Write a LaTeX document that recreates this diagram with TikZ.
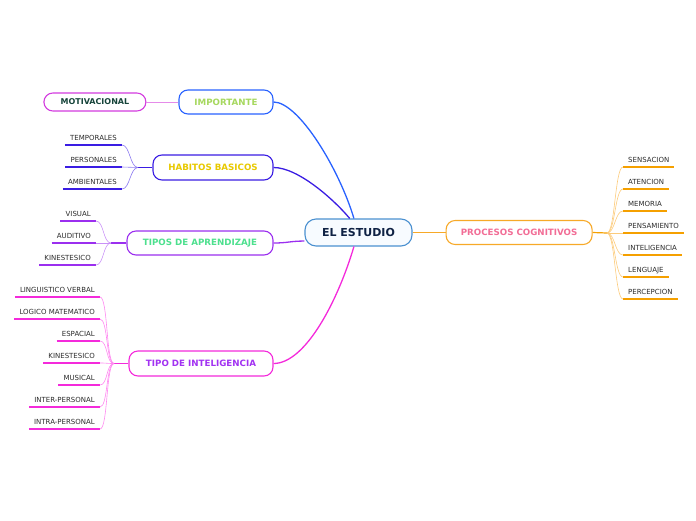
\documentclass[tikz,border=0pt]{standalone}
\usepackage{fontspec}
\setmainfont{DejaVu Sans}
\usetikzlibrary{positioning}

\definecolor{ceborder}{HTML}{4A90D0}
\definecolor{cefill}{HTML}{F7FBFF}
\definecolor{cetext}{HTML}{0F2244}
\definecolor{impborder}{HTML}{2962FF}
\definecolor{imptext}{HTML}{A6D85E}
\definecolor{motborder}{HTML}{D33BDF}
\definecolor{mottext}{HTML}{16443A}
\definecolor{motline}{HTML}{E58BE9}
\definecolor{hbborder}{HTML}{3A1DE3}
\definecolor{hbtext}{HTML}{E8C900}
\definecolor{hbtwig}{HTML}{8C7BF0}
\definecolor{taborder}{HTML}{9B2FEF}
\definecolor{tatext}{HTML}{4DE08E}
\definecolor{tatwig}{HTML}{C990F7}
\definecolor{tiborder}{HTML}{F42ADB}
\definecolor{titext}{HTML}{A232F2}
\definecolor{titwig}{HTML}{FF88F0}
\definecolor{pcborder}{HTML}{F7A928}
\definecolor{pctext}{HTML}{F26D96}
\definecolor{pcline}{HTML}{F5A000}
\definecolor{pctwig}{HTML}{FCCB7B}
\definecolor{leafgray}{HTML}{2B2B2B}

\tikzset{
  topic/.style={draw=#1, fill=white, rounded corners=9pt, line width=1.1pt,
    inner sep=0pt, font=\bfseries\fontsize{8.7}{10}\selectfont},
  leaf/.style={inner xsep=5pt, inner ysep=4pt, text height=5.2pt, text depth=0pt,
    text=leafgray, font=\fontsize{7}{8}\selectfont,
    append after command={(\tikzlastnode.south west) edge[draw=#1, line width=2pt] (\tikzlastnode.south east)}},
  leafL/.style={leaf=#1, anchor=south east},
  leafR/.style={leaf=#1, anchor=south west},
  twigL/.style={color=#1, line width=0.6pt, out=180, in=0, distance=8pt},
  twigR/.style={color=#1, line width=0.6pt, out=0, in=180, distance=8pt},
  branch/.style={draw=#1, line width=1.3pt}
}

\begin{document}
\begin{tikzpicture}[x=1pt,y=-1pt,node distance=22pt]
   \useasboundingbox (0,0) rectangle (696,520);

   % central topic and main branches
   \node[topic=ceborder, fill=cefill, text=cetext, font=\bfseries\fontsize{11}{13}\selectfont,
         rounded corners=11pt, minimum width=107pt, minimum height=27pt] (ce) at (358.5,232.5) {EL ESTUDIO};
   \node[topic=pcborder, text=pctext, minimum width=146pt, minimum height=24pt] (pc) [right=33pt of ce] {PROCESOS COGNITIVOS};
   \node[topic=impborder, text=imptext, minimum width=94pt, minimum height=24pt] (imp) at (226,102) {IMPORTANTE};
   \node[topic=motborder, text=mottext, font=\bfseries\fontsize{8}{10}\selectfont,
         minimum width=102pt, minimum height=18pt] (mot) [left=32pt of imp] {MOTIVACIONAL};
   \node[topic=hbborder, text=hbtext, minimum width=120pt, minimum height=25pt] (hb) at (213,167.5) {HABITOS BASICOS};
   \node[topic=taborder, text=tatext, minimum width=146pt, minimum height=24pt] (ta) at (200,243) {TIPOS DE APRENDIZAJE};
   \node[topic=tiborder, text=titext, minimum width=144pt, minimum height=25pt] (ti) at (201,363.5) {TIPO DE INTELIGENCIA};

   \draw[branch=impborder] (imp.east) .. controls +(25,0) and +(-15,-50) .. (ce.108);
   \draw[branch=hbborder] (hb.east) .. controls +(25,0) and +(-15,-18) .. (ce.122);
   \draw[branch=taborder] (ta.east) .. controls +(15,0) and +(-15,0) .. (ce.189);
   \draw[branch=tiborder] (ti.east) .. controls +(32,0) and +(-16,54) .. (ce.252);
   \draw[branch=pcborder, line width=1.2pt] (ce.east) -- (pc.west);
   \draw[motline, line width=0.9pt] (imp.west) -- (mot.east);

   % HABITOS BASICOS
   \coordinate (hbj) at (138,167.5);
   \node[leafL=hbborder] (tem) at (122,145) {TEMPORALES};
   \node[below=of tem.south east, leafL=hbborder] (per) {PERSONALES};
   \node[below=of per.south east, leafL=hbborder] (amb) {AMBIENTALES};
   \draw[branch=hbborder, line width=1.1pt] (hb.west) -- (hbj);
   \path[twigL=hbtwig]
     (hbj) edge (tem.south east)
           edge (per.south east)
           edge (amb.south east);

   % TIPOS DE APRENDIZAJE
   \coordinate (taj) at (111,243);
   \node[leafL=taborder] (vis) at (96,221) {VISUAL};
   \node[below=of vis.south east, leafL=taborder] (aud) {AUDITIVO};
   \node[below=of aud.south east, leafL=taborder] (kin) {KINESTESICO};
   \draw[branch=taborder, line width=1.1pt] (ta.west) -- (taj);
   \path[twigL=tatwig]
     (taj) edge (vis.south east)
           edge (aud.south east)
           edge (kin.south east);

   % TIPO DE INTELIGENCIA
   \coordinate (tij) at (114,363.5);
   \node[leafL=tiborder] (lin) at (100,297) {LINGUISTICO VERBAL};
   \node[below=of lin.south east, leafL=tiborder] (log) {LOGICO MATEMATICO};
   \node[below=of log.south east, leafL=tiborder] (esp) {ESPACIAL};
   \node[below=of esp.south east, leafL=tiborder] (kne) {KINESTESICO};
   \node[below=of kne.south east, leafL=tiborder] (mus) {MUSICAL};
   \node[below=of mus.south east, leafL=tiborder] (ter) {INTER-PERSONAL};
   \node[below=of ter.south east, leafL=tiborder] (tra) {INTRA-PERSONAL};
   \draw[branch=tiborder, line width=1.1pt] (ti.west) -- (tij);
   \path[twigL=titwig]
     (tij) edge (lin.south east)
           edge (log.south east)
           edge (esp.south east)
           edge (kne.south east)
           edge (mus.south east)
           edge (ter.south east)
           edge (tra.south east);

   % PROCESOS COGNITIVOS
   \coordinate (pcj) at (607,233);
   \node[leafR=pcline] (sen) at (623,167) {SENSACION};
   \node[below=of sen.south west, leafR=pcline] (ate) {ATENCION};
   \node[below=of ate.south west, leafR=pcline] (mem) {MEMORIA};
   \node[below=of mem.south west, leafR=pcline] (pen) {PENSAMIENTO};
   \node[below=of pen.south west, leafR=pcline] (int) {INTELIGENCIA};
   \node[below=of int.south west, leafR=pcline] (len) {LENGUAJE};
   \node[below=of len.south west, leafR=pcline] (pcp) {PERCEPCION};
   \draw[branch=pcline, line width=1.2pt] (pc.east) -- (pcj);
   \path[twigR=pctwig]
     (pcj) edge (sen.south west)
           edge (ate.south west)
           edge (mem.south west)
           edge (pen.south west)
           edge (int.south west)
           edge (len.south west)
           edge (pcp.south west);
\end{tikzpicture}
\end{document}
